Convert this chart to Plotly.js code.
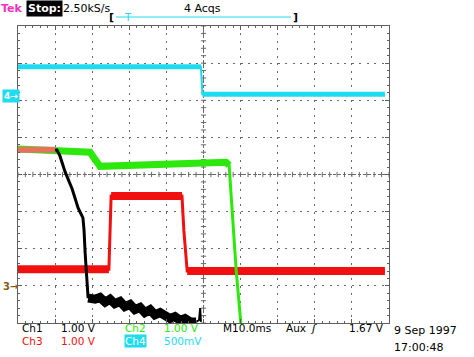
<!DOCTYPE html>
<html><head><meta charset="utf-8">
<script src="https://cdn.plot.ly/plotly-3.0.1.min.js"></script>
<style>html,body{margin:0;padding:0;background:#fff;overflow:hidden}#c{width:474px;height:357px}</style>
</head><body><div id="c"></div>
<script>
// ---- data (time in ms, level in divisions) ----
const ch1Time = [-50, -39.5, -38.7, -37.3, -35.4, -33.8, -32.5, -32.2, -31.9, -31.4, -31.1,
  -29.2, -27.9, -26.5, -25.2, -23.9, -22.5, -21.2, -19.8, -18.5, -17.1, -15.8, -14.4, -13.1,
  -11.7, -10.4, -9.0, -7.7, -6.3, -5.0, -3.6, -2.0, -1.2, -0.9, -0.7];
const ch1Level = [0.66, 0.66, 0.50, 0.07, -0.39, -0.90, -1.17, -1.50, -2.12, -2.84, -3.33,
  -3.36, -3.31, -3.44, -3.36, -3.48, -3.42, -3.56, -3.50, -3.64, -3.58, -3.72, -3.64, -3.78,
  -3.72, -3.82, -3.88, -3.83, -3.93, -3.88, -3.97, -3.97, -3.92, -3.60, -3.97];
const ch2Time = [-50, -40, -30.6, -27.9, -19.8, -6.3, 6.1, 6.9, 8.8, 10.1];
const ch2Level = [0.69, 0.66, 0.60, 0.22, 0.24, 0.28, 0.33, 0.25, -2.57, -4.05];
const ch3Time = [-50, -25.5, -24.9, -5.8, -5.3, -4.4, 48.9];
const ch3Level = [-2.55, -2.55, -0.58, -0.58, -1.50, -2.60, -2.60];
const ch4Time = [-50, -0.7, -0.3, 48.9];
const ch4Level = [2.90, 2.90, 2.16, 2.16];
const overlapTime = [-50, -40];
const overlapLevel = [0.67, 0.67];

const topLabels = ['Tek', 'Stop:', '2.50kS/s', '4 Acqs'];
const row1Labels = ['Ch1', '1.00 V', 'Ch2', '1.00 V', 'M10.0ms', 'Aux', 'ʃ', '1.67 V'];
const row2Labels = ['Ch3', '1.00 V', 'Ch4', '500mV'];
const dateLabels = ['9 Sep 1997', '17:00:48'];

// ---- helpers ----
function seg(xs, ys, ranges) {
  const x = [], y = [];
  ranges.forEach(([a, b], i) => {
    if (i) { x.push(null); y.push(null); }
    for (let k = a; k <= b; k++) { x.push(xs[k]); y.push(ys[k]); }
  });
  return {x, y};
}
function line(xy, color, width) {
  return {type: 'scatter', mode: 'lines', x: xy.x, y: xy.y, hoverinfo: 'skip',
    line: {color, width, shape: 'linear'}, connectgaps: false, showlegend: false};
}
const GREEN = '#2de80c', RED = '#f01010', CYAN = '#1edcf0', BLACK = '#000000';
const all = (xs) => [[0, xs.length - 1]];

const traces = [
  line(seg(ch3Time, ch3Level, all(ch3Time)), RED, 3),
  line(seg(ch3Time, ch3Level, [[0, 1], [2, 3], [5, 6]]), RED, 8),
  line(seg(ch4Time, ch4Level, all(ch4Time)), CYAN, 2),
  line(seg(ch4Time, ch4Level, [[0, 1], [2, 3]]), CYAN, 5),
  line(seg(ch2Time, ch2Level, all(ch2Time)), GREEN, 3),
  line(seg(ch2Time, ch2Level, [[0, 7]]), GREEN, 7),
  line(seg(ch1Time, ch1Level, [[0, 10]]), BLACK, 3),
  line(seg(ch1Time, ch1Level, [[10, ch1Time.length - 4]]), BLACK, 9),
  line(seg(ch1Time, ch1Level, [[ch1Time.length - 4, ch1Time.length - 1]]), BLACK, 2),
  line(seg(overlapTime, overlapLevel, all(overlapTime)), '#e4735c', 6)
];

// ---- graticule ----
const GRID = '#6a6a6a';
const shapes = [
  {type: 'line', xref: 'x', yref: 'y', x0: -50, x1: 50, y0: 0, y1: 0, line: {color: GRID, width: 1, dash: '3px,2px'}, layer: 'below'},
  {type: 'line', xref: 'x', yref: 'y', x0: 0, x1: 0, y0: -4, y1: 4, line: {color: GRID, width: 1, dash: '3px,2px'}, layer: 'below'}
];
for (let t = -50; t <= 50; t += 2) shapes.push({type: 'line', xref: 'x', yref: 'y', x0: t, x1: t, y0: -0.07, y1: 0.07, line: {color: GRID, width: 1}, layer: 'below'});
for (let i = -20; i <= 20; i++) shapes.push({type: 'line', xref: 'x', yref: 'y', x0: -0.7, x1: 0.7, y0: i * 0.2, y1: i * 0.2, line: {color: GRID, width: 1}, layer: 'below'});

// pixel -> paper
const L = 18, T = 26, W = 371, H = 297;
const px = (x) => (x - L) / W, py = (y) => (T + H - y) / H;
shapes.push({type: 'line', xref: 'paper', yref: 'paper', x0: px(116), x1: px(291), y0: py(17), y1: py(17), line: {color: CYAN, width: 1}});

function txt(text, x, y, color, extra, size) {
  return Object.assign({text, xref: 'paper', yref: 'paper', x: px(x), y: py(y), xanchor: 'left', yanchor: 'middle',
    showarrow: false, borderpad: 0, font: {family: 'DejaVu Sans', size: size || 11, color}}, extra || {});
}
const R1 = 328, R2 = 341, FS = 10.5;
const ann = [
  txt(topLabels[0], 0, 8, '#f030c0', {font: {family: 'DejaVu Sans', size: 11, color: '#f030c0', weight: 'bold'}}),
  txt(topLabels[1], 26, 8, '#ffffff', {bgcolor: '#000', borderpad: 1, font: {family: 'DejaVu Sans', size: 11, color: '#fff', weight: 'bold'}}),
  txt(topLabels[2], 62, 8, '#000'),
  txt(topLabels[3], 183, 8, '#000'),
  txt('[', 108, 17, '#000', {font: {family: 'DejaVu Sans', size: 11, color: '#000', weight: 'bold'}}),
  txt(']', 292, 17, '#000', {font: {family: 'DejaVu Sans', size: 11, color: '#000', weight: 'bold'}}),
  txt('T', 123, 17, CYAN, {font: {family: 'DejaVu Sans', size: 10, color: CYAN}}),
  txt(row1Labels[0], 21, R1, '#000', null, FS),
  txt(row1Labels[1], 60, R1, '#000', null, FS),
  txt(row1Labels[2], 124, R1, GREEN, null, FS),
  txt(row1Labels[3], 163, R1, GREEN, null, FS),
  txt(row1Labels[4], 222, R1, '#000', null, FS),
  txt(row1Labels[5], 285, R1, '#000', null, FS),
  txt(row1Labels[6], 309, R1, '#000', {font: {family: 'DejaVu Sans', size: 11, color: '#000', style: 'italic'}}),
  txt(row1Labels[7], 348, R1, '#000', null, FS),
  txt(row2Labels[0], 21, R2, RED, null, FS),
  txt(row2Labels[1], 60, R2, RED, null, FS),
  txt(row2Labels[2], 124, R2, '#fff', {bgcolor: CYAN, borderpad: 0}, FS),
  txt(row2Labels[3], 163, R2, CYAN, null, FS),
  txt(dateLabels[0], 393, 330, '#000'),
  txt(dateLabels[1], 393, 347, '#000'),
  txt('4→', 2, 96, '#fff', {bgcolor: CYAN, borderpad: 1, font: {family: 'DejaVu Sans', size: 9, color: '#fff', weight: 'bold'}}),
  txt('3→', 2, 286, '#7a5a10', {font: {family: 'DejaVu Sans', size: 10, color: '#8a5a10', weight: 'bold'}})
];

const axBase = {showgrid: true, gridcolor: GRID, gridwidth: 1, griddash: '2px,5.42px', zeroline: false,
  showline: true, linecolor: '#5e5e5e', linewidth: 1, mirror: 'ticks', ticks: 'inside', ticklen: 4,
  tickcolor: '#5e5e5e', showticklabels: false, fixedrange: true};
const layout = {
  width: 474, height: 357, margin: {l: L, r: 474 - L - W, t: T, b: 357 - T - H},
  paper_bgcolor: '#fff', plot_bgcolor: '#fff', showlegend: false,
  xaxis: Object.assign({}, axBase, {range: [-50, 50], tick0: -50, dtick: 10,
    minor: {dtick: 2, tick0: -50, ticks: 'inside', ticklen: 2, tickcolor: '#5e5e5e', showgrid: false}}),
  yaxis: Object.assign({}, axBase, {range: [-4, 4], tick0: -4, dtick: 1,
    minor: {dtick: 0.2, tick0: -4, ticks: 'inside', ticklen: 2, tickcolor: '#5e5e5e', showgrid: false}}),
  shapes, annotations: ann
};
Plotly.newPlot('c', traces, layout, {staticPlot: true, displayModeBar: false});
</script></body></html>
